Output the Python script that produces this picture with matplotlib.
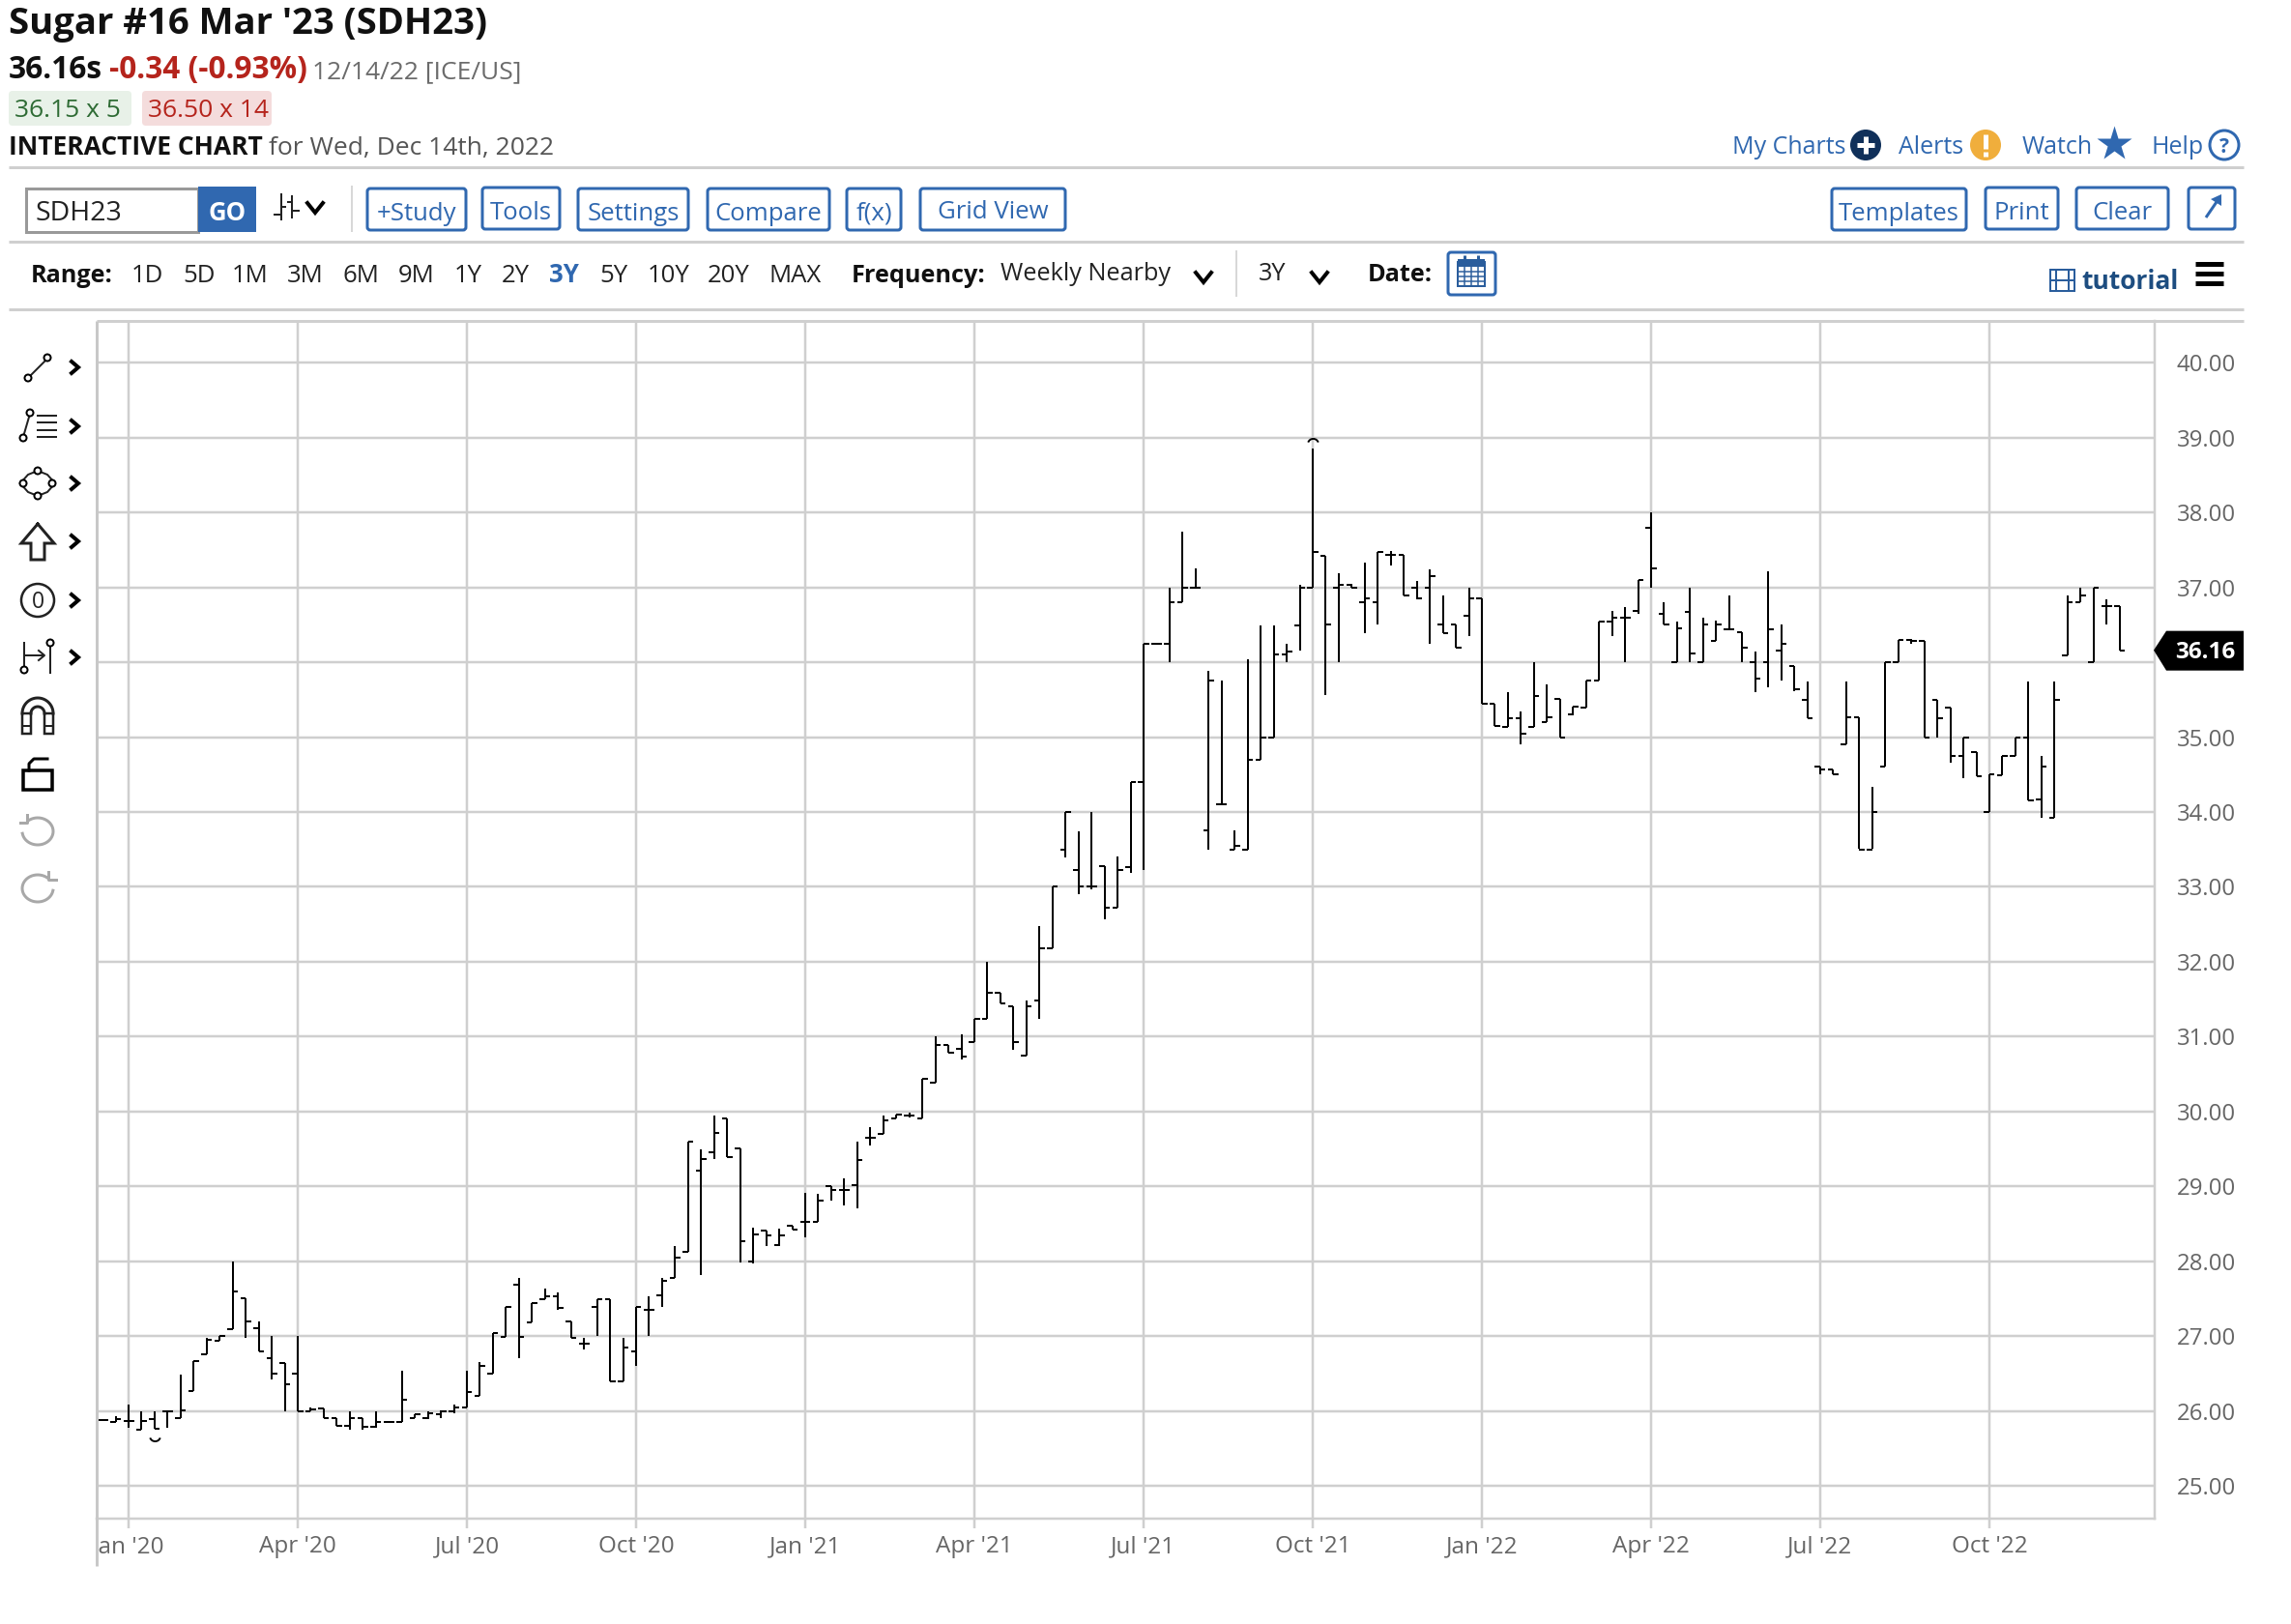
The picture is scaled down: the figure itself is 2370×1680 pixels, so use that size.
import numpy as np
import matplotlib

matplotlib.use("Agg")
import matplotlib.pyplot as plt
from matplotlib.patches import Circle, FancyBboxPatch, Polygon, Rectangle
from matplotlib.path import Path
from matplotlib.transforms import Bbox

plt.rcParams["font.family"] = ["Open Sans", "DejaVu Sans"]

# Weekly bars, oldest first. First bar is two weeks before the Jan '20 gridline
opens = [
    25.88, 25.85, 25.86, 25.75, 25.89, 26.00, 25.90, 26.26, 26.75, 26.94, 27.09, 27.50, 27.10,
    26.70, 26.64, 26.50, 26.00, 26.03, 25.90, 25.80, 25.90, 25.79, 25.85, 25.85, 25.90, 25.90,
    25.95, 26.00, 26.05, 26.20, 26.50, 26.99, 27.69, 27.18, 27.49, 27.53, 27.19, 26.90, 27.39,
    27.49, 26.40, 26.79, 27.35, 27.54, 27.78, 28.12, 29.21, 29.45, 29.90, 29.50, 28.00, 28.41,
    28.21, 28.47, 28.52, 28.52, 29.00, 28.95, 29.01, 29.65, 29.70, 29.90, 29.95, 29.90, 30.39,
    30.89, 30.84, 30.93, 31.24, 31.59, 31.40, 30.74, 31.48, 32.18, 33.49, 33.22, 33.00, 33.27,
    32.72, 33.26, 34.40, 36.25, 36.25, 36.80, 37.00, 33.75, 34.10, 33.50, 33.50, 34.70, 35.00,
    36.10, 36.49, 37.00, 37.42, 37.00, 37.04, 36.80, 36.80, 37.44, 37.44, 37.00, 37.00, 36.50,
    36.50, 36.62, 36.85, 35.45, 35.14, 35.25, 35.14, 35.20, 35.51, 35.30, 35.40, 35.75, 36.54,
    36.59, 36.69, 37.80, 36.65, 36.00, 36.67, 36.00, 36.29, 36.44, 36.40, 36.00, 36.00, 36.15,
    35.95, 35.50, 34.60, 34.57, 34.90, 35.26, 33.50, 34.60, 36.00, 36.30, 36.29, 35.50, 35.40,
    34.75, 34.80, 34.00, 34.49, 34.75, 35.00, 34.17, 33.92, 36.09, 36.80, 36.00, 36.75, 36.75,
]
highs = [
    25.89, 25.93, 26.09, 26.00, 25.99, 26.01, 26.49, 26.66, 26.98, 27.00, 28.00, 27.50, 27.19,
    27.00, 26.64, 27.00, 26.04, 26.03, 25.90, 26.00, 25.90, 26.00, 25.86, 26.54, 25.96, 25.99,
    26.01, 26.09, 26.54, 26.65, 27.04, 27.39, 27.78, 27.44, 27.63, 27.58, 27.19, 26.98, 27.49,
    27.49, 26.98, 27.39, 27.53, 27.78, 28.20, 29.60, 29.49, 29.94, 29.90, 29.50, 28.45, 28.41,
    28.44, 28.47, 28.91, 28.90, 29.00, 29.10, 29.60, 29.79, 29.94, 29.96, 29.98, 30.44, 31.00,
    30.89, 31.03, 31.23, 32.00, 31.59, 31.40, 31.48, 32.47, 33.00, 34.00, 33.74, 34.00, 33.27,
    33.40, 34.40, 36.25, 36.25, 37.00, 37.75, 37.25, 35.89, 35.75, 33.75, 36.04, 36.49, 36.49,
    36.24, 37.04, 38.86, 37.42, 37.19, 37.05, 37.33, 37.47, 37.48, 37.44, 37.09, 37.24, 36.89,
    36.50, 37.00, 36.85, 35.45, 35.60, 35.34, 36.00, 35.70, 35.51, 35.41, 35.75, 36.54, 36.69,
    36.74, 37.10, 38.00, 36.80, 36.54, 37.00, 36.59, 36.55, 36.89, 36.40, 36.14, 37.22, 36.50,
    35.95, 35.74, 34.60, 34.57, 35.74, 35.26, 34.34, 36.00, 36.30, 36.31, 36.29, 35.50, 35.40,
    35.00, 34.80, 34.50, 34.75, 35.00, 35.74, 34.75, 35.74, 36.89, 37.00, 37.00, 36.84, 36.75,
]
lows = [
    25.87, 25.85, 25.77, 25.75, 25.76, 25.77, 25.90, 26.26, 26.75, 26.94, 27.09, 26.98, 26.80,
    26.42, 26.00, 26.00, 25.99, 25.90, 25.80, 25.75, 25.75, 25.78, 25.84, 25.85, 25.90, 25.89,
    25.90, 25.97, 26.05, 26.20, 26.50, 26.99, 26.70, 27.18, 27.49, 27.35, 26.98, 26.82, 27.00,
    26.40, 26.40, 26.60, 27.00, 27.39, 27.78, 28.12, 27.81, 29.36, 29.39, 27.98, 27.97, 28.20,
    28.20, 28.42, 28.32, 28.52, 28.81, 28.75, 28.70, 29.55, 29.70, 29.90, 29.92, 29.90, 30.39,
    30.79, 30.69, 30.93, 31.24, 31.44, 30.82, 30.74, 31.24, 32.18, 33.39, 32.90, 32.97, 32.57,
    32.72, 33.18, 33.22, 36.25, 36.00, 36.80, 37.00, 33.50, 34.10, 33.50, 33.50, 34.70, 35.00,
    36.00, 36.15, 37.00, 35.56, 36.00, 36.99, 36.39, 36.50, 37.29, 36.89, 36.84, 36.25, 36.39,
    36.19, 36.35, 35.45, 35.15, 35.14, 34.90, 35.14, 35.20, 35.00, 35.29, 35.40, 35.75, 36.35,
    36.00, 36.64, 37.00, 36.50, 36.00, 36.00, 36.00, 36.29, 36.44, 36.00, 35.60, 35.66, 35.75,
    35.61, 35.25, 34.50, 34.50, 34.90, 33.51, 33.51, 34.60, 36.00, 36.25, 35.00, 35.00, 34.66,
    34.45, 34.48, 34.00, 34.49, 34.75, 34.15, 33.92, 33.92, 36.09, 36.80, 36.00, 36.51, 36.16,
]
closes = [
    25.88, 25.89, 25.86, 25.87, 25.76, 26.00, 26.01, 26.66, 26.95, 27.00, 27.60, 27.20, 26.80,
    26.50, 26.35, 26.00, 26.02, 25.90, 25.80, 25.90, 25.79, 25.85, 25.85, 26.15, 25.96, 25.97,
    26.00, 26.04, 26.25, 26.60, 27.04, 27.39, 26.99, 27.44, 27.53, 27.38, 26.98, 26.90, 27.49,
    26.40, 26.85, 27.39, 27.35, 27.74, 28.05, 29.60, 29.36, 29.71, 29.39, 28.27, 28.36, 28.35,
    28.35, 28.42, 28.52, 28.81, 28.95, 28.95, 29.35, 29.65, 29.88, 29.96, 29.95, 30.44, 30.89,
    30.79, 30.73, 31.23, 31.59, 31.44, 30.93, 31.40, 32.18, 33.00, 34.00, 33.00, 33.00, 32.72,
    33.22, 34.40, 36.25, 36.25, 36.80, 37.00, 37.00, 35.75, 34.10, 33.55, 34.70, 35.00, 36.10,
    36.14, 37.00, 37.47, 36.50, 37.04, 37.00, 36.85, 37.47, 37.44, 36.89, 36.85, 37.15, 36.39,
    36.19, 36.85, 35.45, 35.15, 35.25, 35.05, 35.55, 35.26, 35.00, 35.41, 35.75, 36.54, 36.59,
    36.59, 37.10, 37.25, 36.50, 36.45, 36.12, 36.50, 36.50, 36.44, 36.19, 35.78, 36.44, 36.25,
    35.64, 35.25, 34.57, 34.50, 35.26, 33.50, 34.00, 36.00, 36.30, 36.28, 35.00, 35.25, 34.75,
    35.00, 34.48, 34.50, 34.75, 35.00, 34.15, 34.60, 35.50, 36.80, 36.89, 37.00, 36.75, 36.16,
]

# Arc marks at the contract's low and high weeks
low_mark = (4, 25.67)
high_mark = (93, 38.92)

month_bars = [2, 15, 28, 41, 54, 67, 80, 93, 106, 119, 132, 145]
month_labels = [
    "Jan '20", "Apr '20", "Jul '20", "Oct '20", "Jan '21", "Apr '21",
    "Jul '21", "Oct '21", "Jan '22", "Apr '22", "Jul '22", "Oct '22",
]
price_ticks = list(range(25, 41))
last_price = 36.16

range_items = [
    ("1D", 136), ("5D", 189), ("1M", 240), ("3M", 297), ("6M", 354), ("9M", 412), ("1Y", 470),
    ("2Y", 519), ("5Y", 620), ("10Y", 670), ("20Y", 732), ("MAX", 795),
]

BLUE = "#3068b0"
GRID = "#cfcfcf"
GREY = "#666666"
W, H = 2370, 1680
PX = 0.72  # one pixel in points at dpi 100


fig = plt.figure(figsize=(W / 100, H / 100), dpi=100, facecolor="white")

# Page furniture is drawn in pixel coordinates
ui = fig.add_axes([0, 0, 1, 1])
ui.set_xlim(0, W)
ui.set_ylim(H, 0)
ui.axis("off")


def label(x, y, s, size=18.5, color="#222222", weight="normal", ha="left"):
    return ui.text(x, y, s, fontsize=size, color=color, fontweight=weight, ha=ha, va="baseline")


def rule(x0, y0, x1, y1, color=GRID, lw=3, **kw):
    ui.plot([x0, x1], [y0, y1], color=color, lw=lw * PX, solid_capstyle="butt", **kw)


def button(x0, y0, x1, y1, s, base=228):
    ui.add_patch(FancyBboxPatch((x0 + 2, y0 + 2), x1 - x0 - 4, y1 - y0 - 4,
                                boxstyle="round,pad=0,rounding_size=3",
                                fc="white", ec=BLUE, lw=3 * PX))
    if s:
        label((x0 + x1) / 2, base, s, size=18.5, color=BLUE, ha="center")


def chevron(x, y, w=8, h=5, lw=4):
    ui.plot([x - w, x, x + w], [y - h, y + h, y - h], color="black", lw=lw * PX,
            solid_joinstyle="miter")


def side_chevron(y):
    ui.plot([74, 81, 74], [y - 6, y, y + 6], color="black", lw=4 * PX, solid_joinstyle="miter")


def dot(x, y, r=3.5, color="black"):
    ui.add_patch(Circle((x, y), r, fc="white", ec=color, lw=2 * PX, zorder=4))


# Header
label(9, 35, "Sugar #16 Mar '23 (SDH23)", size=27.5, color="#111111", weight="bold")
label(9, 81, "36.16s", size=22.8, color="#111111", weight="bold")
label(113, 81, "-0.34 (-0.93%)", size=22.8, color="#b5241c", weight="bold")
label(323, 81, "12/14/22 [ICE/US]", size=19, color="#6b6b6b")
ui.add_patch(FancyBboxPatch((9, 94), 127, 36, boxstyle="round,pad=0,rounding_size=4",
                            fc="#e8f1e8", ec="none"))
ui.add_patch(FancyBboxPatch((147, 94), 134, 36, boxstyle="round,pad=0,rounding_size=4",
                            fc="#f4dcdc", ec="none"))
label(15, 121, "36.15 x 5", size=19, color="#2e6b34")
label(153, 121, "36.50 x 14", size=19, color="#b5241c")
label(9, 160, "INTERACTIVE CHART", size=19, color="#111111", weight="bold")
label(278, 160, "for Wed, Dec 14th, 2022", size=19, color="#555555")

# Links top right
label(1792, 159, "My Charts", size=18, color=BLUE)
ui.add_patch(Circle((1930, 150), 16, fc="#10305a", ec="none"))
rule(1921, 150, 1939, 150, color="white", lw=5)
rule(1930, 141, 1930, 159, color="white", lw=5)
label(1964, 159, "Alerts", size=18, color=BLUE)
ui.add_patch(Circle((2054, 150), 16, fc="#f0ae3c", ec="none"))
rule(2054, 139, 2054, 154, color="white", lw=5)
rule(2054, 157, 2054, 162, color="white", lw=5)
label(2092, 159, "Watch", size=18, color=BLUE)
ui.plot([2187], [149], marker="*", ms=27, color=BLUE, mec="none")
label(2226, 159, "Help", size=18, color=BLUE)
ui.add_patch(Circle((2301, 150), 15, fc="white", ec=BLUE, lw=3 * PX))
ui.text(2301, 158, "?", fontsize=15, color=BLUE, fontweight="bold", ha="center", va="baseline")

for y in (173, 250, 320):
    rule(9, y, 2321, y)

# Symbol box and buttons
ui.add_patch(Rectangle((26.5, 194.5), 178, 45, fc="white", ec="#999999", lw=3 * PX))
label(37, 228, "SDH23", size=20.5, color="#222222")
ui.add_patch(Rectangle((205, 193), 60, 47, fc=BLUE, ec="none"))
label(235, 228, "GO", size=18.5, color="white", weight="bold", ha="center")
rule(291, 200, 291, 228, color="#222222", lw=2)
rule(302, 202, 302, 226, color="#222222", lw=2)
rule(283, 222, 291, 222, color="#222222", lw=2)
rule(291, 214, 296, 214, color="#222222", lw=2)
rule(297, 209, 302, 209, color="#222222", lw=2)
rule(302, 218, 310, 218, color="#222222", lw=2)
chevron(326, 215)
rule(364, 192, 364, 240, color="#d8d8d8", lw=2)

button(378, 193, 484, 240, "+Study")
button(497, 192, 581, 239, "Tools", base=227)
button(596, 193, 714, 240, "Settings")
button(730, 193, 860, 240, "Compare")
button(874, 193, 934, 240, "f(x)")
button(950, 193, 1104, 240, "Grid View", base=226)
button(1893, 193, 2036, 240, "Templates", base=228)
button(2052, 192, 2131, 239, "Print", base=227)
button(2146, 192, 2245, 239, "Clear", base=227)
button(2262, 192, 2314, 239, "")
rule(2282, 225, 2295, 206, color=BLUE, lw=3)
ui.add_patch(Polygon([[2298, 201], [2298, 213], [2287, 206]], fc=BLUE, ec="none"))

# Range row
label(32, 292, "Range:", size=18.2, color="#111111", weight="bold")
for s, x in range_items:
    label(x, 292, s, size=18.5, color="#222222")
label(568, 292, "3Y", size=18.5, color=BLUE, weight="bold")
label(881, 292, "Frequency:", size=18.2, color="#111111", weight="bold")
label(1035, 290, "Weekly Nearby", size=18.2, color="#222222")
chevron(1245, 287)
rule(1279, 259, 1279, 307, color="#d8d8d8", lw=2)
label(1302, 290, "3Y", size=18.2, color="#222222")
chevron(1365, 287)
label(1415, 291, "Date:", size=18.2, color="#111111", weight="bold")
button(1496, 259, 1549, 307, "")
ui.add_patch(Rectangle((1508, 271), 28, 25, fc="white", ec="#2a5d9c", lw=2 * PX))
ui.add_patch(Rectangle((1508, 268), 28, 8, fc="#2a5d9c", ec="none"))
for y in (281, 286, 291):
    rule(1508, y, 1536, y, color="#2a5d9c", lw=1.5)
for x in (1515, 1522, 1529):
    rule(x, 276, x, 296, color="#2a5d9c", lw=1.5)
for x in (1515, 1529):
    rule(x, 264, x, 272, color="#2a5d9c", lw=3)

ui.add_patch(Rectangle((2121, 279), 25, 22, fc="white", ec="#2a5d9c", lw=2 * PX))
rule(2127, 279, 2127, 301, color="#2a5d9c", lw=2)
rule(2140, 279, 2140, 301, color="#2a5d9c", lw=2)
rule(2121, 290, 2146, 290, color="#2a5d9c", lw=2)
label(2153, 299, "tutorial", size=19, color="#1d4d80", weight="bold")
for y in (273, 283, 293):
    rule(2271, y, 2300, y, color="black", lw=5)

# Drawing tools down the left edge
for y in (380, 441, 500, 560, 621, 680):
    side_chevron(y)
rule(29, 391, 49, 371, color="#222222", lw=2)
dot(29, 391)
dot(49, 370)
rule(24, 452, 31, 428, color="#222222", lw=2)
dot(24, 453)
dot(31, 427)
for y in (430, 437, 445, 452):
    rule(38, y, 59, y, color="#222222", lw=2)
ui.plot([21, 29, 39, 49, 57, 49, 39, 29, 21], [500, 491, 487, 491, 500, 509, 513, 509, 500],
        color="#222222", lw=2 * PX)
for x, y in ((24, 500), (39, 487), (54, 500), (39, 513)):
    dot(x, y)
ui.plot([39, 22, 32, 32, 46, 46, 56, 39], [542, 562, 562, 579, 579, 562, 562, 542],
        color="#222222", lw=3 * PX, solid_joinstyle="miter")
ui.add_patch(Circle((39, 621), 17, fc="white", ec="#222222", lw=2.5 * PX))
ui.text(39, 629, "0", fontsize=16.5, color="#222222", ha="center", va="baseline")
rule(25, 664, 25, 692, color="#222222", lw=2)
dot(25, 693)
rule(25, 678, 45, 678, color="#222222", lw=2)
ui.plot([40, 46, 40], [673, 678, 683], color="#222222", lw=2 * PX)
rule(52, 668, 52, 697, color="#222222", lw=2)
dot(52, 665)
# magnet
arc_t = np.linspace(np.pi, 2 * np.pi, 30)
ui.plot(39 + 16 * np.cos(arc_t), 738 + 16 * np.sin(arc_t), color="#222222", lw=3 * PX)
ui.plot(39 + 7 * np.cos(arc_t), 738 + 7 * np.sin(arc_t), color="#222222", lw=3 * PX)
for x0, x1 in ((23, 32), (46, 55)):
    ui.add_patch(Rectangle((x0, 738), x1 - x0, 21, fc="white", ec="#222222", lw=2.5 * PX))
    rule(x0, 751, x1, 751, color="#222222", lw=2)
# lock
ui.add_patch(Rectangle((24, 797), 30, 20, fc="white", ec="black", lw=3.5 * PX))
ui.plot([30, 30, 35, 49], [797, 790, 785, 785], color="black", lw=3 * PX)
# undo / redo
t1 = np.linspace(-0.72 * np.pi, 0.95 * np.pi, 40)
ui.plot(39 + 16 * np.cos(t1), 860 + 14 * np.sin(t1), color="#a8a8a8", lw=3 * PX)
ui.plot([21, 28, 28], [851, 851, 843], color="#a8a8a8", lw=3 * PX)
t2 = np.linspace(-0.28 * np.pi, -1.95 * np.pi, 40)
ui.plot(39 + 16 * np.cos(t2), 919 + 14 * np.sin(t2), color="#a8a8a8", lw=3 * PX)
ui.plot([58, 50, 50], [910, 910, 902], color="#a8a8a8", lw=3 * PX)

# Chart frame lines that run past the plot area
rule(100, 332, 2321, 332)
rule(100, 332, 100, 1620, color="#c8c8c8")

# Chart area
L, R, T, B = 100, 2229, 332, 1571
ax = fig.add_axes([L / W, 1 - B / H, (R - L) / W, (B - T) / H], zorder=2)
ax.patch.set_alpha(0)

# pixel position of the axis limits comes from two gridlines and two month lines
px_per_week = 175 / 13
px_per_dollar = 77.45
ax.set_xlim(2 - (133 - L) / px_per_week, 2 + (R - 133) / px_per_week)
ax.set_ylim(25 - (B - 1537) / px_per_dollar, 25 + (1537 - T) / px_per_dollar)

for side in ("top", "left"):
    ax.spines[side].set_visible(False)
for side in ("right", "bottom"):
    ax.spines[side].set_color(GRID)
    ax.spines[side].set_linewidth(2.5 * PX)

ax.yaxis.tick_right()
ax.set_yticks(price_ticks)
# the 36.00 label sits behind the last price flag
ax.set_yticklabels(["" if p == 36 else f"{p:.2f}" for p in price_ticks], fontsize=17.3, color=GREY)
ax.tick_params(axis="y", length=0, pad=16.5)
ax.set_xticks(month_bars)
ax.set_xticklabels(month_labels, fontsize=17.5, color=GREY)
ax.tick_params(axis="x", length=7, width=2.5 * PX, color=GRID, pad=5.5)
ax.grid(True, color=GRID, lw=2.5 * PX)
ax.set_axisbelow(True)

# "Jan '20" is cut off by the left edge of the chart
clip = Bbox([[L + 1, 0], [W, H]])
for t in ax.get_xticklabels():
    t.set_clip_box(clip)
    t.set_clip_on(True)

bars = np.arange(len(closes))
tick = 5.5 / px_per_week
ax.vlines(bars, lows, highs, color="black", lw=2 * PX, zorder=3)
ax.hlines(opens, bars - tick, bars, color="black", lw=2 * PX, zorder=3)
ax.hlines(closes, bars, bars + tick, color="black", lw=2 * PX, zorder=3)

ax.plot(*low_mark, marker=Path.arc(200, 340), ms=8, mfc="none", mec="black", mew=1.4, zorder=3)
ax.plot(*high_mark, marker=Path.arc(20, 160), ms=8, mfc="none", mec="black", mew=1.4, zorder=3)

# Last price flag, sits on top of the axis
yp = ax.transData.transform((0, last_price))[1]
yp = H - yp
ui.set_zorder(3)
ui.patch.set_alpha(0)
ui.add_patch(Polygon([[2228, yp], [2241, yp - 20], [2321, yp - 20], [2321, yp + 21], [2241, yp + 21]],
                     fc="black", ec="none", zorder=5))
ui.text(2281, yp + 8, f"{last_price:.2f}", fontsize=17.5, color="white", fontweight="bold",
        ha="center", va="baseline", zorder=6)

fig.savefig("out.png", dpi=100)
